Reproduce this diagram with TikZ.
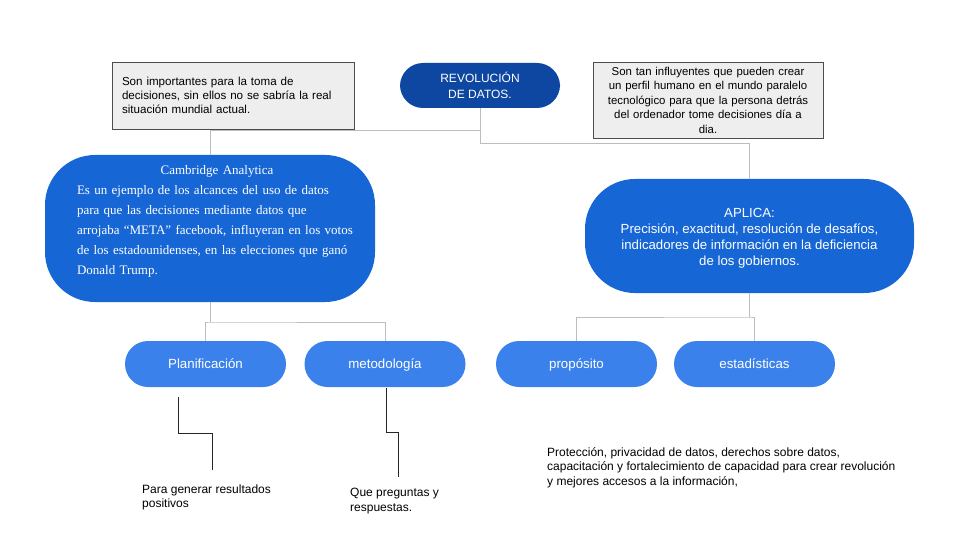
\documentclass[tikz,border=0pt]{standalone}
\usepackage{fontspec}
\setmainfont{Liberation Sans}
\newfontfamily\serifa{Liberation Serif}
\usepackage{tikz}
\usetikzlibrary{positioning}
\definecolor{azuloscuro}{HTML}{0D47A1}
\definecolor{azulmedio}{HTML}{1766D6}
\definecolor{azulclaro}{HTML}{3A81EC}
\definecolor{grislinea}{HTML}{BDBDBD}
\definecolor{grisnota}{HTML}{EEEEEE}
\tikzstyle{boton}=[rectangle, rounded corners=23pt, fill=azulclaro, text=white, inner sep=0pt, minimum width=161pt, minimum height=46pt, text height=11.5pt, text depth=2pt, font=\fontsize{13.3}{16}\selectfont]
\tikzstyle{grande}=[rectangle, rounded corners=50pt, fill=azulmedio, text=white, inner sep=0pt]
\tikzstyle{nota}=[rectangle, draw=black!70, fill=grisnota, inner sep=0pt, font=\fontsize{11.6}{14}\selectfont]
\tikzstyle{texto}=[inner sep=0pt, align=left, anchor=west, font=\fontsize{12}{14.5}\selectfont]
\tikzstyle{rama}=[draw=grislinea, line width=0.8pt]
\tikzstyle{guia}=[draw=black!85, line width=0.9pt]
\newcommand{\boton}{\node[boton]}

\begin{document}
\begin{tikzpicture}[x=1pt, y=-1pt]
    \useasboundingbox[fill=white] (0,0) rectangle (960,540);
    \node[boton, fill=azuloscuro, minimum width=160pt, minimum height=45pt, text height=, text depth=, align=center, font=\fontsize{12}{16}\selectfont] (rev) at (480,85.5) {REVOLUCIÓN\\DE DATOS.};
    \node[nota, minimum width=242pt, minimum height=67pt, text width=222pt, align=left] (nota1) at (233,95.5)
        {Son importantes para la toma de\\decisiones, sin ellos no se sabría la real\\situación mundial actual.};
    \node[nota, minimum width=230pt, minimum height=76pt, text width=224pt, align=center, font=\fontsize{11.4}{14.5}\selectfont] (nota2) at (708,100)
        {Son tan influyentes que pueden crear\\un perfil humano en el mundo paralelo\\tecnológico para que la persona detrás\\del ordenador tome decisiones día a\\dia.};
    \node[grande, minimum width=330pt, minimum height=147pt] (cam) at (210,228.5) {};
    \node[text=white, inner sep=0pt, text width=280pt, align=left, font=\serifa\fontsize{13}{20}\selectfont] (camtexto) at (217,221)
        {\makebox[280pt][c]{Cambridge Analytica}\\Es un ejemplo de los alcances del uso de datos\\para que las decisiones mediante datos que\\arrojaba “META” facebook, influyeran en los votos\\de los estadounidenses, en las elecciones que ganó\\Donald Trump.};
    \node[grande, minimum width=329pt, minimum height=114pt] (apl) at (749.5,236) {};
    \node[text=white, inner sep=0pt, align=center, font=\fontsize{13.2}{16}\selectfont] (apltexto) at (749.5,238.5)
        {APLICA:\\Precisión, exactitud, resolución de desafíos,\\indicadores de información en la deficiencia\\de los gobiernos.};
    \boton (plan) at (205.5,364) {Planificación};
    \boton (met) at (385,364) {metodología};
    \boton (prop) at (576.5,364) {propósito};
    \boton (est) at (754.5,364) {estadísticas};
    \node[texto, font=\fontsize{12}{14}\selectfont] (tplan) at (142,497) {Para generar resultados\\positivos};
    \node[texto, font=\fontsize{12}{15}\selectfont] (tmet) at (350,501.5) {Que preguntas y\\respuestas.};
    \node[texto] (tprop) at (547,467.5)
        {Protección, privacidad de datos, derechos sobre datos,\\capacitación y fortalecimiento de capacidad para crear revolución\\y mejores accesos a la información,};
    % uniones
    \coordinate (j1) at (480,130);
    \coordinate (j2) at (480,143);
    \coordinate (j3) at (210,322);
    \coordinate (j4) at (749.5,317);
    \path[rama] (rev.south) -- (j1) -| (cam.north);
    \path[rama] (j1) -- (j2) -| (apl.north);
    \path[rama] (cam.south) -- (j3);
    \path[rama] (plan.north) |- (j3) -| (met.north);
    \path[rama] (apl.south) -- (j4);
    \path[rama] (prop.north) |- (j4) -| (est.north);
    % guias hacia los textos
    \coordinate (p1) at (178,397);
    \coordinate (pm) at (178,433);
    \coordinate (p2) at (212,470);
    \coordinate (m1) at (386,388);
    \coordinate (mm) at (386,432);
    \coordinate (m2) at (398,477);
    \path[guia] (p1) -- (pm) -| (p2);
    \path[guia] (m1) -- (mm) -| (m2);
\end{tikzpicture}
\end{document}
